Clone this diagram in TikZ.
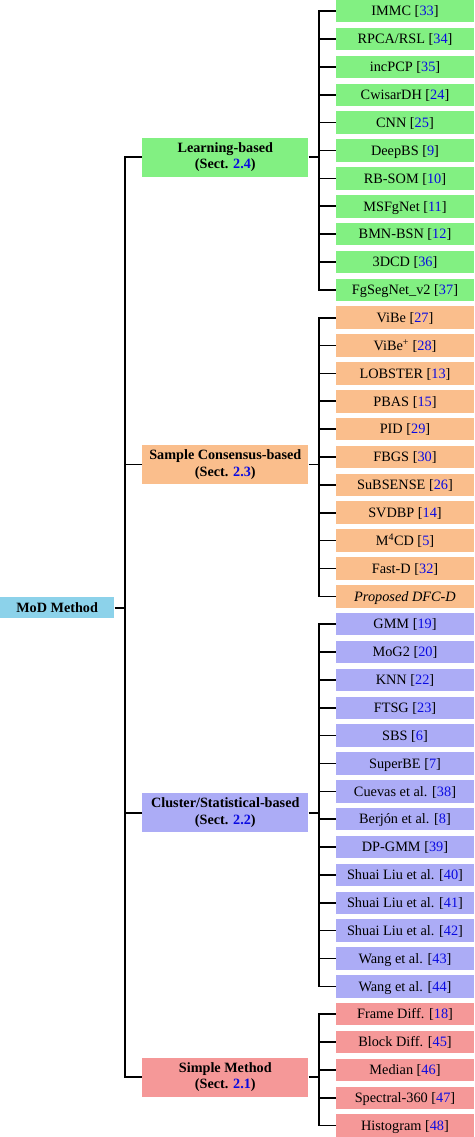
\documentclass[tikz,border=0pt]{standalone}
\usepackage{fontspec}
\setmainfont{Liberation Serif}
\definecolor{cgreen}{RGB}{130,240,130}
\definecolor{corange}{RGB}{250,190,140}
\definecolor{cblue}{RGB}{172,172,246}
\definecolor{cred}{RGB}{245,152,152}
\definecolor{cmod}{RGB}{140,210,234}
\definecolor{refblue}{RGB}{10,10,225}
\newcommand{\rf}[1]{[\textcolor{refblue}{#1}]}
\begin{document}
\begin{tikzpicture}[x=1pt,y=-1pt,
  leaf/.style={minimum width=138pt, minimum height=22.5pt, inner sep=0pt,
    text height=9.5pt, text depth=0pt, font=\fontsize{14.3}{16.7}\selectfont},
  cat/.style={minimum width=166pt, minimum height=39pt, inner sep=0pt, align=center,
    font=\fontsize{14.2}{16.7}\selectfont\bfseries},
  conn/.style={line width=1.6pt}]
\useasboundingbox (0,0) rectangle (474,1137);

% leaves
\foreach \t [count=\i from 0] in {
  {IMMC \rf{33}},{RPCA/RSL \rf{34}},{incPCP \rf{35}},{CwisarDH \rf{24}},{CNN \rf{25}},
  {DeepBS \rf{9}},{RB-SOM \rf{10}},{MSFgNet \rf{11}},{BMN-BSN \rf{12}},{3DCD \rf{36}},
  {FgSegNet\_v2 \rf{37}}}
  \node[leaf, fill=cgreen] (l\i) at (405,{11.25+\i*27.86}) {\t};
\foreach \t [count=\i from 11] in {
  {ViBe \rf{27}},{ViBe\textsuperscript{+} \rf{28}},{LOBSTER \rf{13}},{PBAS \rf{15}},{PID \rf{29}},
  {FBGS \rf{30}},{SuBSENSE \rf{26}},{SVDBP \rf{14}},{M\textsuperscript{4}CD \rf{5}},{Fast-D \rf{32}},
  {\itshape Proposed DFC-D}}
  \node[leaf, fill=corange] (l\i) at (405,{11.25+\i*27.86}) {\t};
\foreach \t [count=\i from 22] in {
  {GMM \rf{19}},{MoG2 \rf{20}},{KNN \rf{22}},{FTSG \rf{23}},{SBS \rf{6}},{SuperBE \rf{7}},
  {Cuevas et al. \rf{38}},{Berjón et al. \rf{8}},{DP-GMM \rf{39}},{Shuai Liu et al. \rf{40}},
  {Shuai Liu et al. \rf{41}},{Shuai Liu et al. \rf{42}},{Wang et al. \rf{43}},{Wang et al. \rf{44}}}
  \node[leaf, fill=cblue] (l\i) at (405,{11.25+\i*27.86}) {\t};
\foreach \t [count=\i from 36] in {
  {Frame Diff. \rf{18}},{Block Diff. \rf{45}},{Median \rf{46}},{Spectral-360 \rf{47}},{Histogram \rf{48}}}
  \node[leaf, fill=cred] (l\i) at (405,{11.25+\i*27.86}) {\t};

% categories
\node[cat, fill=cgreen]  (learn)   at (225.3,157.2)  {Learning-based\\(Sect. \textcolor{refblue}{2.4})};
\node[cat, fill=corange] (sample)  at (225.3,464.4)  {Sample Consensus-based\\(Sect. \textcolor{refblue}{2.3})};
\node[cat, fill=cblue]   (cluster) at (225.3,812.8)  {Cluster/Statistical-based\\(Sect. \textcolor{refblue}{2.2})};
\node[cat, fill=cred]    (simple)  at (225.3,1077.0) {Simple Method\\(Sect. \textcolor{refblue}{2.1})};

% root
\node[minimum width=114.3pt, minimum height=21pt, inner sep=0pt, fill=cmod,
  font=\fontsize{14.2}{16.7}\selectfont\bfseries, text height=9.5pt, text depth=0pt]
  (mod) at (57.15,607.8) {MoD Method};

% trunk
\draw[conn] (learn.west) -- ++(-17.3,0) coordinate (tr) |- (simple.west);
\draw[conn] (sample.west) -- (sample.west -| tr);
\draw[conn] (cluster.west) -- (cluster.west -| tr);
\draw[conn] (mod.east) -- (mod.east -| tr);

% group bars
\draw[conn] (l0.west) -- ++(-17,0) coordinate (bg) |- (l10.west);
\draw[conn] (learn.east) -- (learn.east -| bg);
\foreach \i in {1,...,9} \draw[conn] (l\i.west) -- (l\i.west -| bg);

\draw[conn] (l11.west) -- ++(-17,0) coordinate (bo) |- (l21.west);
\draw[conn] (sample.east) -- (sample.east -| bo);
\foreach \i in {12,...,20} \draw[conn] (l\i.west) -- (l\i.west -| bo);

\draw[conn] (l22.west) -- ++(-17,0) coordinate (bb) |- (l35.west);
\draw[conn] (cluster.east) -- (cluster.east -| bb);
\foreach \i in {23,...,34} \draw[conn] (l\i.west) -- (l\i.west -| bb);

\draw[conn] (l36.west) -- ++(-17,0) coordinate (br) |- (l40.west);
\draw[conn] (simple.east) -- (simple.east -| br);
\foreach \i in {37,...,39} \draw[conn] (l\i.west) -- (l\i.west -| br);
\end{tikzpicture}
\end{document}
